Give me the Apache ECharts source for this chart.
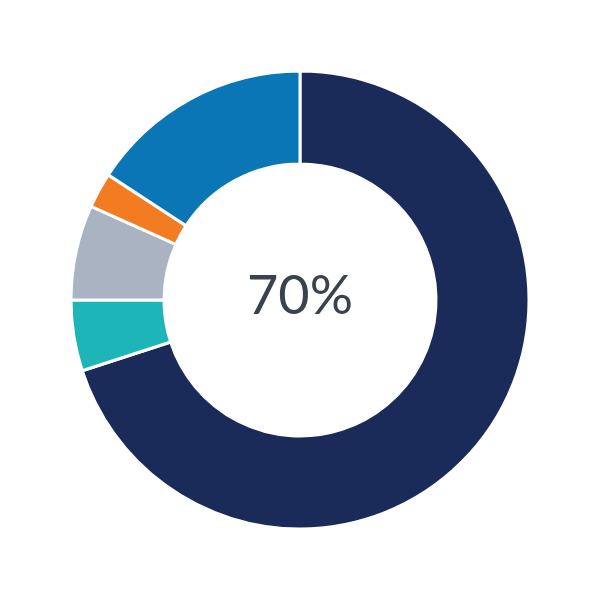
<!DOCTYPE html>
<html>
<head>
<meta charset="utf-8">
<script src="https://cdn.jsdelivr.net/npm/echarts@6/dist/echarts.min.js"></script>
<style>
html,body{margin:0;padding:0;background:#fff;}
#chart{width:600px;height:600px;}
</style>
</head>
<body>
<div id="chart"></div>
<script>
const categories = ['A', 'B', 'C', 'D', 'E'];
const values = [70, 5, 6.7, 2.5, 15.8];
const colors = ['#1b2b59', '#1db5b7', '#a9b3c2', '#f37b21', '#0a76b6'];
const centerLabel = '70%';

const chart = echarts.init(document.getElementById('chart'), null, {renderer: 'canvas'});
chart.setOption({
  animation: false,
  backgroundColor: '#ffffff',
  graphic: [{
    type: 'text',
    x: 300,
    y: 297,
    style: {
      text: centerLabel,
      font: '400 54px Lato',
      fill: '#3a434d',
      align: 'center',
      verticalAlign: 'middle'
    }
  }],
  series: [{
    type: 'pie',
    center: ['50%', '50%'],
    radius: [136, 229],
    startAngle: 90,
    clockwise: true,
    label: {show: false},
    labelLine: {show: false},
    emphasis: {disabled: true},
    itemStyle: {borderColor: '#ffffff', borderWidth: 3},
    data: categories.map((c, i) => ({name: c, value: values[i], itemStyle: {color: colors[i]}}))
  }]
});
</script>
</body>
</html>
